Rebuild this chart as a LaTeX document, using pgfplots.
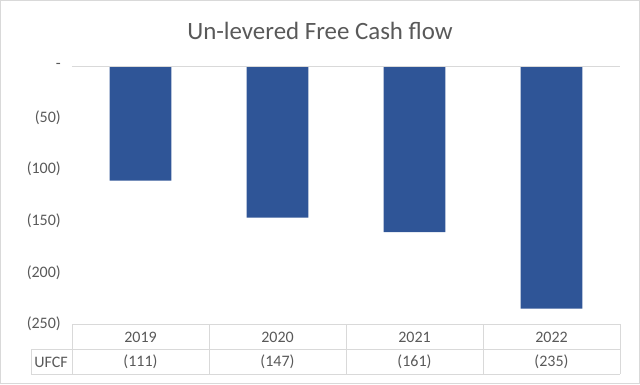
\documentclass[border=0pt]{standalone}
\usepackage{pgfplots}
\pgfplotsset{compat=1.18}
\usepackage{fontspec}
\setmainfont{Carlito}
\definecolor{barblue}{RGB}{47,85,151}
\definecolor{txtgray}{RGB}{89,89,89}
\definecolor{linegray}{RGB}{217,217,217}
\begin{document}
\begin{tikzpicture}[x=1pt,y=1pt]
\draw[linegray,line width=1pt] (0.5,0.5) rectangle (639.5,383.5);
\node[text=txtgray,font=\fontsize{24.9}{28}\selectfont] at (320,353) {Un-levered Free Cash flow};
\begin{axis}[
  at={(72pt,60pt)}, anchor=south west,
  scale only axis, width=548pt, height=258pt,
  xmin=-0.5, xmax=3.5, ymin=-250, ymax=0,
  axis line style={draw=none},
  tick style={draw=none},
  xtick=\empty,
  ytick={-250,-200,-150,-100,-50,0},
  yticklabels={(250),(200),(150),(100),(50),{-\hspace{12pt}}},
  yticklabel style={anchor=east, inner sep=0pt, xshift=-11pt, text=txtgray, font=\fontsize{16}{19}\selectfont},
  clip=false,
]
\addplot[ybar, bar width=0.45, fill=barblue, draw=none] coordinates {(0,-111) (1,-147) (2,-161) (3,-235)};
\draw[linegray,line width=1pt] (axis cs:-0.5,0) -- (axis cs:3.5,0);
\end{axis}
% data table
\begin{scope}[linegray,line width=1pt]
\draw (72,60) -- (620,60);
\draw (31,35) -- (620,35);
\draw (31,10) -- (620,10);
\draw (31,35) -- (31,10);
\foreach \xx in {72,209,346,483,620} {\draw (\xx,60) -- (\xx,10);}
\end{scope}
\begin{scope}[every node/.style={text=txtgray,font=\fontsize{16}{19}\selectfont}]
\node at (140.5,47) {2019};
\node at (277.5,47) {2020};
\node at (414.5,47) {2021};
\node at (551.5,47) {2022};
\node at (51,22) {UFCF};
\node at (140.5,22) {(111)};
\node at (277.5,22) {(147)};
\node at (414.5,22) {(161)};
\node at (551.5,22) {(235)};
\end{scope}
\end{tikzpicture}
\end{document}
